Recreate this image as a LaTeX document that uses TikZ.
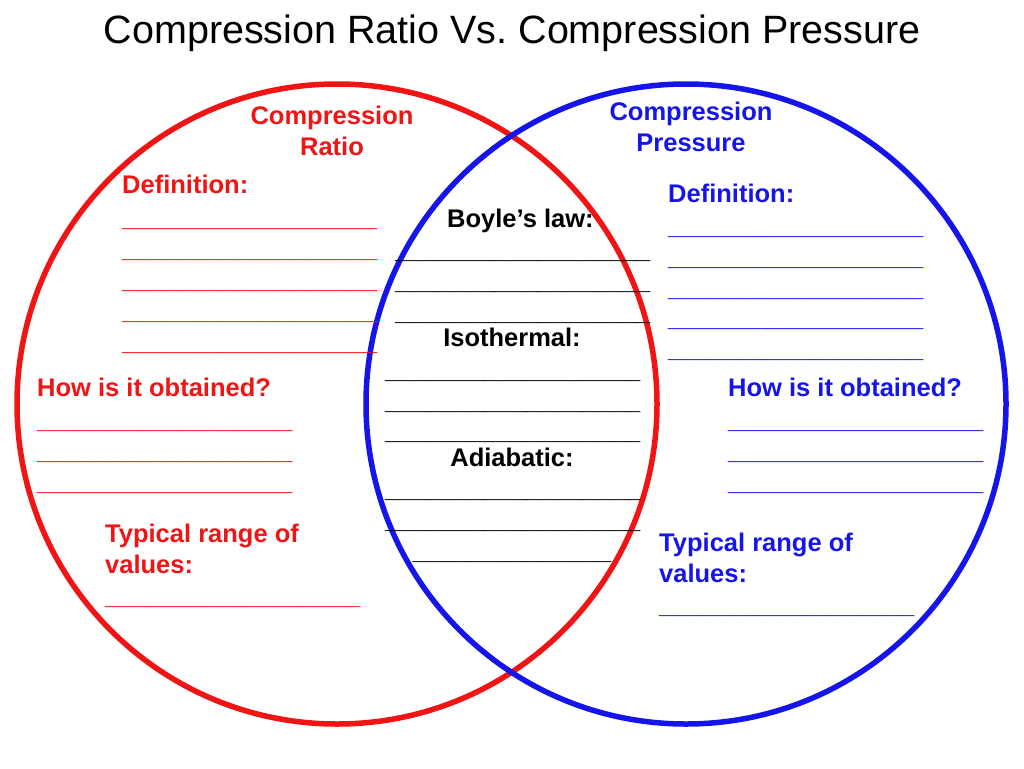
\documentclass[tikz,border=0pt]{standalone}
\usepackage{fontspec}
\setmainfont{Liberation Sans}
\frenchspacing
\definecolor{ratiored}{RGB}{240,20,20}
\definecolor{pressblue}{RGB}{20,20,235}
\newcommand{\blankline}{\_\_\_\_\_\_\_\_\_\_\_\_\_\_\_\_\_\_}
\newcommand{\shortblank}{\_\_\_\_\_\_\_\_\_\_\_\_\_\_}
\tikzset{
  lbl/.style={font=\fontsize{25.5}{30}\selectfont\bfseries, inner sep=0pt, anchor=base west},
  mid/.style={lbl, anchor=base}
}
\begin{document}
\begin{tikzpicture}[x=1pt,y=-1pt]
  \useasboundingbox (0,0) rectangle (1024,768);
  \fill[white] (0,0) rectangle (1024,768);
  \node[font=\fontsize{39.5}{44}\selectfont, anchor=base] (title) at (512,44) {Compression Ratio Vs. Compression Pressure};
  % the two circles
  \draw [ratiored, line width=5.5pt] (337,404) circle (320);
  \draw [pressblue, line width=5.5pt] (686,404) circle (320);
  % ratio side
  \begin{scope}[every node/.append style={text=ratiored}]
    \node[mid] (rtop) at (332,124) {Compression};
    \node[mid] (rtop2) at (332,155) {Ratio};
    \node[lbl] (rdef) at (122,193) {Definition:};
    \foreach \y [count=\i] in {226,257,288,319,350}
      \node[lbl] (rdl\i) at (122,\y) {\blankline};
    \node[lbl] (rhow) at (37,396) {How is it obtained?};
    \foreach \y [count=\i] in {428,459,490}
      \node[lbl] (rhl\i) at (37,\y) {\blankline};
    \node[lbl] (rtyp) at (105,542) {Typical range of};
    \node[lbl] (rtyp2) at (105,573) {values:};
    \node[lbl] (rtl) at (105,604) {\blankline};
  \end{scope}
  % common part
  \node[lbl] (boyle) at (447,227) {Boyle’s law:};
  \foreach \y [count=\i] in {258,289,320}
    \node[lbl] (bl\i) at (395,\y) {\blankline};
  \node[mid] (iso) at (512,346) {Isothermal:};
  \foreach \y [count=\i] in {378,409,439}
    \node[lbl] (il\i) at (385,\y) {\blankline};
  \node[mid] (adia) at (512,466) {Adiabatic:};
  \node[lbl] (al1) at (385,497) {\blankline};
  \node[lbl] (al2) at (385,528) {\blankline};
  \node[mid] (al3) at (512,559) {\shortblank};
  % pressure side
  \begin{scope}[every node/.append style={text=pressblue}]
    \node[mid] (ptop) at (691,120) {Compression};
    \node[mid] (ptop2) at (691,151) {Pressure};
    \node[lbl] (pdef) at (668,202) {Definition:};
    \foreach \y [count=\i] in {234,265,296,326,357}
      \node[lbl] (pdl\i) at (668,\y) {\blankline};
    \node[lbl] (phow) at (728,396) {How is it obtained?};
    \foreach \y [count=\i] in {428,459,490}
      \node[lbl] (phl\i) at (728,\y) {\blankline};
    \node[lbl] (ptyp) at (659,551) {Typical range of};
    \node[lbl] (ptyp2) at (659,582) {values:};
    \node[lbl] (ptl) at (659,613) {\blankline};
  \end{scope}
\end{tikzpicture}
\end{document}
